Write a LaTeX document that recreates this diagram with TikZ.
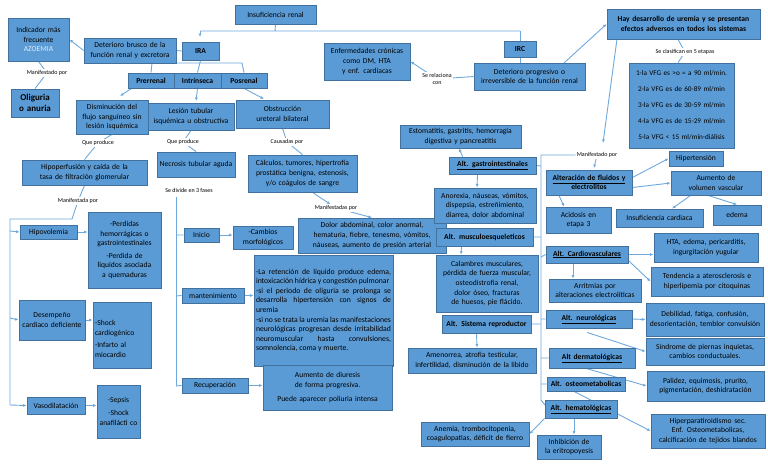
\documentclass[tikz,border=0pt]{standalone}
\usepackage{fontspec}
\setmainfont{Carlito}
\usetikzlibrary{arrows.meta,backgrounds}
\definecolor{bfill}{HTML}{5B9BD5}
\definecolor{bdraw}{HTML}{41719C}
\definecolor{lnk}{HTML}{6FA8DC}
\lefthyphenmin=62\relax
\tikzset{
 box/.style={draw=bdraw,line width=0.8pt,fill=bfill,align=center,inner sep=1pt,font=\fontsize{7.6}{9.6}\selectfont},
 lbl/.style={font=\fontsize{6}{7}\selectfont,inner sep=1pt,fill=white,align=center},
 ln/.style={draw=lnk,line width=0.9pt},
 ar/.style={ln,-{Latex[length=3.5pt,width=3pt]}},
}
\newcommand{\B}[7][]{\node[box,#1,minimum width={#5-#3},minimum height={#6-#4},text width={#5-#3-4}] (#2) at ({(#3+#5)/2},{(#4+#6)/2}) {#7};}
\begin{document}
\begin{tikzpicture}[x=1pt,y=-1pt]
\lefthyphenmin=62\relax
\useasboundingbox (0,0) rectangle (768,466);
% left
\B{ir}{235}{5}{316}{24}{Insuficiencia renal}
\B{ind}{8}{18}{69}{61}{Indicador más frecuente \textcolor{white!80!bfill}{AZOEMIA}}
\B{det}{84}{38}{176}{63}{Deterioro brusco de la función renal y excretora}
\B{ira}{182}{42}{219}{60}{\textbf{IRA}}
\B{pre}{128}{73}{174}{88}{\textbf{Prerrenal}}
\B{intr}{174}{73}{221}{88}{\textbf{Intrínseca}}
\B{pos}{221}{73}{267}{88}{\textbf{Posrenal}}
\B[font=\fontsize{9}{11}\selectfont\bfseries]{oli}{11}{89}{59}{117}{Oliguria o anuria}
\B{dis}{76}{100}{148}{134}{Disminución del flujo sanguíneo sin lesión isquémica}
\B{les}{148}{103}{234}{130}{Lesión tubular isquémica u obstructiva}
\B{obs}{236}{100}{329}{128}{Obstrucción ureteral bilateral}
\B{hip}{22}{160}{147}{185}{Hipoperfusión y caída de la tasa de filtración glomerular}
\B{nec}{157}{152}{235}{177}{Necrosis tubular aguda}
\B{cal}{248}{155}{357}{192}{Cálculos, tumores, hipertrofia prostática benigna, estenosis, y/o coágulos de sangre}
\B{dol}{298}{218}{446}{253}{Dolor abdominal, color anormal, hematuria, fiebre, tenesmo, vómitos, náuseas, aumento de presión arterial}
\B{hipo}{20}{225}{77}{239}{Hipovolemia}
\B{per}{88}{212}{161}{288}{-Perdidas hemorrágicas o gastrointestinales\\[3pt]-Perdida de liquidos asociada a quemaduras}
\B{des}{19}{300}{85}{340}{Desempeño cardiaco deficiente}
\B[align=left,text depth=24pt]{sho}{93}{302}{151}{368}{-Shock cardiogénico\\[3pt]-Infarto al miocardio}
\B{vas}{27}{397}{85}{414}{Vasodilatación}
\B{sep}{97}{385}{140}{438}{-Sepsis\\[3pt]-Shock anafilácti co}
\B{ini}{184}{228}{219}{242}{Inicio}
\B{cam}{233}{226}{293}{249}{-Cambios morfológicos}
\B{man}{182}{288}{244}{303}{mantenimiento}
\B[align=justify,font=\fontsize{7.7}{9.6}\selectfont]{ret}{254}{255}{393}{366}{-La retención de líquido produce edema, intoxicación hídrica y congestión pulmonar\\-si el periodo de oliguria se prolonga se desarrolla hipertensión con signos de uremia\\-si no se trata la uremia las manifestaciones neurológicas progresan desde irritabilidad neuromuscular hasta convulsiones, somnolencia, coma y muerte.}
\B{rec}{182}{378}{248}{393}{Recuperación}
\B{aum}{263}{365}{392}{410}{Aumento de diuresis de forma progresiva.\\[4pt]Puede aparecer poliuria intensa}
% right
\B{enf}{324}{43}{410}{80}{Enfermedades crónicas como DM, HTA y enf. cardiacas}
\B{irc}{504}{41}{536}{57}{\textbf{IRC}}
\B{dpr}{474}{63}{585}{90}{Deterioro progresivo o irreversible de la función renal}
\B[font=\fontsize{7.6}{9.8}\selectfont\bfseries]{hay}{607}{9}{760}{39}{Hay desarrollo de uremia y se presentan efectos adversos en todos los sistemas}
\B[font=\fontsize{7.2}{16}\selectfont]{vfg}{629}{63}{734}{148}{1-la VFG es >o = a 90 ml/min.\\2-la VFG es de 60-89 ml/min\\3-la VFG es de 30-59 ml/min\\4-la VFG es de 15-29 ml/min\\5-la VFG < 15 ml/min-diálisis}
\B{est}{400}{125}{521}{148}{Estomatitis, gastritis, hemorragia digestiva y pancreatitis}
\B{gas}{449}{157}{536}{174}{\textbf{\underline{Alt. gastrointestinales}}}
\B{ano}{434}{188}{536}{223}{Anorexia, náuseas, vómitos, dispepsia, estreñimiento, diarrea, dolor abdominal}
\B{flu}{546}{170}{632}{195}{\textbf{\underline{Alteración de fluidos y}}\\\textbf{electrolitos}}
\B{hts}{669}{151}{723}{166}{Hipertensión}
\B{avv}{671}{171}{761}{195}{Aumento de volumen vascular}
\B{icr}{616}{209}{703}{227}{Insuficiencia cardiaca}
\B{ede}{713}{205}{761}{225}{edema}
\B{aci}{546}{207}{611}{233}{Acidosis en etapa 3}
\B{mus}{436}{228}{533}{246}{\textbf{Alt. musculoesqueleticos}}
\B{car}{546}{246}{628}{263}{\textbf{\underline{Alt. Cardiovasculares}}}
\B{hta}{654}{233}{758}{262}{HTA, edema, pericarditis, ingurgitación yugular}
\B{ten}{651}{267}{763}{296}{Tendencia a aterosclerosis e hiperlipemia por citoquinas}
\B{cla}{436}{255}{538}{312}{Calambres musculares, pérdida de fuerza muscular, osteodistrofia renal, dolor óseo, fracturas de huesos, pie flácido.}
\B{arr}{549}{279}{641}{302}{Arritmias por alteraciones electrolíticas}
\B{rep}{442}{315}{531}{333}{\textbf{Alt. Sistema reproductor}}
\B{neu}{546}{310}{632}{328}{\textbf{\underline{Alt. neurológicas}}}
\B{deb}{646}{303}{764}{336}{Debilidad, fatiga, confusión, desorientación, temblor convulsión}
\B{sin}{646}{338}{764}{365}{Síndrome de piernas inquietas, cambios conductuales.}
\B{ame}{408}{348}{536}{373}{Amenorrea, atrofia testicular, infertilidad, disminución de la libido}
\B{der}{549}{348}{635}{368}{\textbf{\underline{Alt dermatológicas}}}
\B{pal}{647}{371}{764}{401}{Palidez, equimosis, prurito, pigmentación, deshidratación}
\B{ost}{547}{377}{625}{391}{\textbf{Alt. osteometabolicas}}
\B{hem}{545}{400}{617}{418}{\textbf{\underline{Alt. hematológicas}}}
\B{hpt}{651}{414}{765}{448}{Hiperparatiroidismo sec. Enf. Osteometabolicas, calcificación de tejidos blandos}
\B{ane}{421}{422}{529}{446}{Anemia, trombocitopenia, coagulopatias, déficit de fierro}
\B{inh}{537}{435}{601}{459}{Inhibición de la eritropoyesis}
\node[lbl] (l1) at (47,73) {Manifestado por};
\node[lbl] (l2) at (98,143) {Que produce};
\node[lbl] (l3) at (183,142) {Que produce};
\node[lbl] (l4) at (287,142) {Causadas por};
\node[lbl] (l5) at (336,208) {Manifestadas por};
\node[lbl] (l6) at (78,201) {Manifestada por};
\node[lbl] (l7) at (189,190) {Se divide en 3 fases};
\node[lbl] (l8) at (437,79) {Se relaciona\\con};
\node[lbl] (l9) at (685,52) {Se clasifican en 5 etapas};
\node[lbl] (l10) at (597,155) {Manifestado por};
\begin{scope}[on background layer]
\coordinate (t1) at (200,31); \coordinate (t2) at (520,31);
\draw[ln] (ir.south) -- (275,31) (t1) -- (t2);
\draw[ar] (t1) -- (200,37);
\draw[ln] (t2) -- (irc.north);
\draw[ln] (ira.west) -- (det.east);
\draw[ar] (det.west) -- (ind.east);
\draw[ln] (ind.south) -- (l1) -- (oli.north);
\draw[ln] (ira.south) -- (intr.north);
\draw[ln] (152,63) -- (pre.north) (176,63) -- (242,63) -- (pos.north);
\draw[ar] (pre.south west) ++(4,0) -- (120,96);
\draw[ar] (intr.south) -- (196,101);
\draw[ar] (pos.south) -- (264,99);
\draw[ln] (dis.south) -- (l2) -- (hip.north);
\draw[ln] (les.south) -- (l3) -- (nec.north);
\draw[ln] (obs.south) -- (l4) -- (cal.north);
\draw[ar] (cal.south) ++(10,0) -- (l5);
\draw[ar] (l5) -- (dol.north);
\draw[ln] (hip.south) -- (l6) -- (72,219) -- (10,219) -- (10,405);
\draw[ar] (10,231) -- (hipo.west);
\draw[ar] (10,318) -- (des.west);
\draw[ar] (10,405) -- (vas.west);
\draw[ar] (hipo.east) -- (per.west |- hipo.east);
\draw[ar] (des.east) -- (sho.west |- des.east);
\draw[ar] (vas.east) -- (sep.west |- vas.east);
\draw[ln] (176,197) -- (176,386);
\draw[ln] (176,235) -- (ini.west) (176,296) -- (man.west) (176,386) -- (rec.west);
\draw[ar] (ini.east) -- (cam.west |- ini.east);
\draw[ar] (man.east) -- (ret.west |- man.east);
\draw[ar] (rec.east) -- (aum.west |- rec.east);
\draw[ln] (irc.south) -- (dpr.north -| irc.south);
\draw[ln] (dpr.west) -- (l8);
\draw[ar] (l8) -- (enf.east);
\draw[ar] (564,63) -- (hay.west);
\draw[ln] (hay.south -| 678,0) -- (l9) -- (vfg.north -| 678,0);
\draw[ar] (617,39) -- (603,143);
\draw[ln] (l10) -- (541,155) -- (541,400) -- (545,405);
\draw[ar] (l10) -- (594,168);
\draw[ln] (gas.east) -- (541,166) (mus.east) -- (541,237) (rep.east) -- (541,324);
\draw[ln] (541,257) -- (car.west) (541,319) -- (neu.west) (541,358) -- (der.west) (541,384) -- (ost.west);
\draw[ar] (gas.north west) ++(14,0) -- (est.south -| 459,0);
\draw[ar] (gas.south) ++(-15,0) -- (ano.north -| 477,0);
\draw[ar] (mus.south) ++(-23,0) -- (cla.north -| 461,0);
\draw[ar] (rep.south) ++(-10,0) -- (ame.north -| 477,0);
\draw[ar] (flu.east) ++(0,-5) -- (hts.west);
\draw[ar] (flu.east) ++(0,5) -- (avv.west);
\draw[ar] (flu.south) ++(-30,0) -- (aci.north -| 564,0);
\draw[ar] (avv.south west) ++(20,0) -- (icr.north -| 672,0);
\draw[ar] (avv.south) ++(-8,0) -- (ede.north);
\draw[ar] (car.east) -- (hta.west |- car.east);
\draw[ar] (car.east) ++(0,6) -- (ten.west);
\draw[ar] (car.south) ++(-14,0) -- (arr.north -| 573,0);
\draw[ar] (neu.east) -- (deb.west);
\draw[ar] (neu.south) ++(-2,4) -- (sin.west);
\draw[ar] (der.south) ++(-6,0) -- (pal.west);
\draw[ar] (ost.south) ++(-12,0) -- (hpt.west);
\draw[ar] (hem.south west) -- (ane.east);
\draw[ar] (hem.south) ++(-7,0) -- (inh.north -| 574,0);
\end{scope}
\end{tikzpicture}
\end{document}
